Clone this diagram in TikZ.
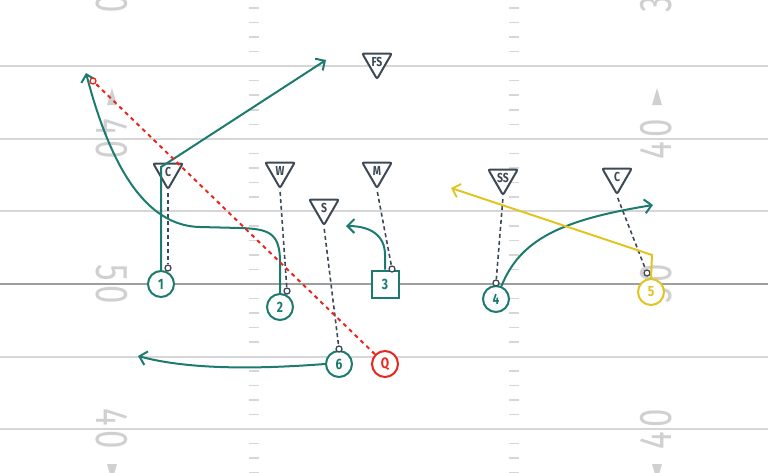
\documentclass[tikz,border=0pt]{standalone}
\usepackage{fontspec}
\setmainfont{Fira Sans}
\newfontfamily\playfont[FakeStretch=0.8]{Fira Sans}
\newfontfamily\yardfont[FakeStretch=0.72]{Fira Sans}
\usepackage{tikz}
\usetikzlibrary{shapes.geometric,arrows.meta,positioning,calc}

\definecolor{offteal}{HTML}{1C7B6E}
\definecolor{offyellow}{HTML}{E2C420}
\definecolor{offred}{HTML}{E8261E}
\definecolor{defgray}{HTML}{3D4955}
\definecolor{fieldgray}{HTML}{D6D6D6}
\definecolor{losgray}{HTML}{9E9E9E}
\definecolor{yardgray}{HTML}{D0D0D0}

\begin{document}
\begin{tikzpicture}[x=1pt,y=-1pt,
    off/.style={circle, draw=offteal, line width=2pt, fill=white, minimum size=26pt, inner sep=0pt,
        text=offteal, font=\playfont\bfseries\fontsize{15}{15}\selectfont},
    def/.style={regular polygon, regular polygon sides=3, shape border rotate=180, draw=defgray,
        line width=2pt, fill=white, minimum size=34pt, inner sep=0pt, rounded corners=2pt,
        text=defgray, font=\playfont\bfseries\fontsize{13}{13}\selectfont},
    cov/.style={circle, draw=defgray, line width=1.3pt, fill=white, minimum size=6pt, inner sep=0pt},
    covline/.style={defgray, line width=1.6pt, dash pattern=on 4pt off 3pt, shorten <=2pt},
    route/.style={offteal, line width=2pt, -{Straight Barb[length=7pt,width=14pt]}},
    yardnum/.style={text=yardgray, inner sep=0pt, font=\yardfont\fontsize{46}{46}\selectfont}]
    \useasboundingbox (0,0) rectangle (768,472);
    \clip (0,0) rectangle (768,472);

    % Hash marks
    \foreach \j in {-20,...,13} {
        \draw[fieldgray, line width=1.5pt] (249,284+14.52*\j) -- (259,284+14.52*\j);
        \draw[fieldgray, line width=1.5pt] (509,284+14.52*\j) -- (519,284+14.52*\j);
    }

    % Yard lines
    \foreach \k in {-3,-2,-1,1,2}
        \draw[fieldgray, line width=2pt] (0,284+72.6*\k) -- (768,284+72.6*\k);
    \draw[losgray, line width=2pt] (0,284) -- (768,284);

    % Yard numbers
    \node[yardnum, rotate=-90] (yl30) at (112,-6.6) {3\kern4pt0};
    \node[yardnum, rotate=-90] (yl40a) at (112,139) {4\kern4pt0};
    \node[yardnum, rotate=-90] (yl50) at (112,284) {5\kern4pt0};
    \node[yardnum, rotate=-90] (yl40b) at (112,429) {4\kern4pt0};
    \node[yardnum, rotate=90] (yr30) at (656,-6.6) {3\kern4pt0};
    \node[yardnum, rotate=90] (yr40a) at (656,139) {4\kern4pt0};
    \node[yardnum, rotate=90] (yr50) at (656,284) {5\kern4pt0};
    \node[yardnum, rotate=90] (yr40b) at (656,429) {4\kern4pt0};

    % Direction arrows
    \fill[yardgray] (107,105) -- (112,88) -- (117,105) -- cycle;
    \fill[yardgray] (652,105) -- (657,88) -- (662,105) -- cycle;
    \fill[yardgray] (107,464) -- (112,481) -- (117,464) -- cycle;
    \fill[yardgray] (652,464) -- (657,481) -- (662,464) -- cycle;

    % Defense
    \node[def] (fs) at (377,62) {FS};
    \node[def] (cl) at (168,172) {C};
    \node[def] (w) at (280,171) {W};
    \node[def] (m) at (377,171) {M};
    \node[def] (s) at (324,208) {S};
    \node[def] (ss) at (503,178) {SS};
    \node[def] (cr) at (617,177) {C};

    % Offense
    \node[off] (p1) at (161,284) {1};
    \node[off] (p2) at (280,307) {2};
    \node[off, rectangle, minimum size=27pt] (p3) at (385,284) {3};
    \node[off] (p4) at (496,299) {4};
    \node[off, draw=offyellow, text=offyellow] (p5) at (651,292) {5};
    \node[off] (p6) at (339,364) {6};
    \node[off, draw=offred, text=offred] (qb) at (385,364) {Q};

    % Man coverage
    \node[cov] (k1) at (168,268) {};
    \node[cov] (k2) at (287,291) {};
    \node[cov] (k3) at (392,269) {};
    \node[cov] (k4) at (496,283) {};
    \node[cov] (k5) at (647,273) {};
    \node[cov] (k6) at (339,349) {};
    \draw[covline] (cl.corner 1) -- (k1);
    \draw[covline] (w.corner 1) -- (k2);
    \draw[covline] (m.corner 1) -- (k3);
    \draw[covline] (ss.corner 1) -- (k4);
    \draw[covline] (cr.corner 1) -- (k5);
    \draw[covline] (s.corner 1) -- (k6);

    % Routes
    \coordinate (r1) at (326,60);
    \coordinate (r2) at (86,73);
    \coordinate (r3) at (346,226);
    \coordinate (r4) at (653,205);
    \coordinate (r5) at (451,188);
    \coordinate (r6) at (138,356);
    \draw[route] (p1.north) -- (161,167) -- (r1);
    \draw[route] (p2.north) -- (280,262) .. controls (280,232) and (268,229) .. (240,228)
        -- (200,227) .. controls (145,226) and (110,165) .. (r2);
    \draw[route] (p3.north) -- (385,255) .. controls (385,235) and (370,226) .. (r3);
    \draw[route] (p4.67) .. controls (520,240) and (560,220) .. (r4);
    \draw[route, offyellow] (p5.north) -- (652,255) -- (r5);
    \draw[route] (p6.west) .. controls (260,369) and (190,370) .. (r6);

    % Pass
    \node[circle, draw=offred, line width=1.3pt, fill=white, minimum size=6pt, inner sep=0pt] (qend) at (93,81) {};
    \draw[offred, line width=2pt, dash pattern=on 4pt off 4pt] (qb) -- (qend);
\end{tikzpicture}
\end{document}
